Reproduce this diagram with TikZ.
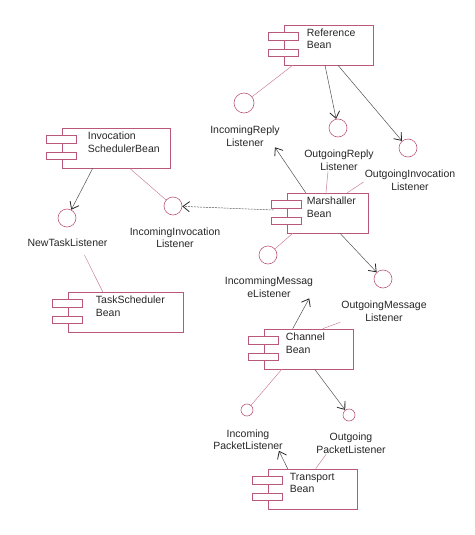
\documentclass[tikz,border=0pt]{standalone}
\usepackage{fontspec}
\setmainfont{Liberation Sans}
\usetikzlibrary{arrows.meta}

\definecolor{beanred}{RGB}{186,88,122}
\definecolor{arrgray}{RGB}{80,80,80}

% the two little tabs on the left side of a bean
\newcommand{\beantabs}[1]{%
  \foreach \dy in {8.5,-8} {
    \draw[beanred,line width=0.6pt,fill=white]
      ([xshift=-15pt,yshift=\dy pt-3.75pt]#1.west) rectangle ([xshift=15pt,yshift=\dy pt+3.75pt]#1.west);
  }%
}

\begin{document}
\begin{tikzpicture}[x=1pt,y=-1pt,
    font=\fontsize{10.5}{12.5}\selectfont,
    text=black!85,
    bean/.style={draw=beanred,line width=0.6pt,minimum height=40pt,inner sep=0pt},
    beantext/.style={anchor=north west,align=left,inner sep=0pt,yshift=-4pt},
    iface/.style={draw=beanred,circle,line width=0.6pt,inner sep=0pt,minimum size=18pt},
    small iface/.style={iface,minimum size=12pt},
    ifname/.style={align=center,inner sep=1pt},
    link/.style={draw=beanred!75,line width=0.5pt},
    uses/.style={draw=arrgray,line width=0.5pt,-{Straight Barb[length=6.5pt,width=10pt,line width=0.8pt,color=black!85]}},
    calls/.style={uses,dash pattern=on 2pt off 1pt}]
  \useasboundingbox (0,0) rectangle (474,535);

  % beans
  \node[bean,minimum width=89pt,label={[beantext,xshift=23pt]north west:Reference\\Bean}] (ref) at (328.5,45) {};
  \node[bean,minimum width=108pt,label={[beantext,xshift=26pt]north west:Invocation\\SchedulerBean}] (inv) at (116,148) {};
  \node[bean,minimum width=115pt,label={[beantext,xshift=28pt]north west:TaskScheduler\\Bean}] (task) at (125.5,312) {};
  \node[bean,minimum width=81pt,label={[beantext,xshift=20pt]north west:Marshaller\\Bean}] (mar) at (327.5,213) {};
  \node[bean,minimum width=89pt,label={[beantext,xshift=22pt]north west:Channel\\Bean}] (chan) at (308.5,349) {};
  \node[bean,minimum width=89pt,label={[beantext,xshift=22pt]north west:Transport\\Bean}] (trans) at (312.5,489) {};
  \beantabs{ref}
  \beantabs{inv}
  \beantabs{task}
  \beantabs{mar}
  \beantabs{chan}
  \beantabs{trans}

  % interfaces
  \node[iface,minimum size=20pt] (irC) at (244,103) {};
  \node[iface] (orC) at (338,128) {};
  \node[iface] (oiC) at (408,148) {};
  \node[iface] (ntC) at (67,218) {};
  \node[iface] (iiC) at (173,206) {};
  \node[iface] (imC) at (268,255) {};
  \node[iface] (omC) at (383,279) {};
  \node[small iface] (ipC) at (247,410) {};
  \node[small iface] (opC) at (349,415) {};

  \node[ifname] (irL) at (245,136) {IncomingReply\\Listener};
  \node[ifname] (orL) at (339,160) {OutgoingReply\\Listener};
  \node[ifname] (oiL) at (410,180) {OutgoingInvocation\\Listener};
  \node[ifname] (ntL) at (67.5,243) {NewTaskListener};
  \node[ifname] (iiL) at (175,237.5) {IncomingInvocation\\Listener};
  \node[ifname] (imL) at (269,287) {IncommingMessag\\eListener};
  \node[ifname] (omL) at (384,311) {OutgoingMessage\\Listener};
  \node[ifname] (ipL) at (248,439.5) {Incoming\\PacketListener};
  \node[ifname] (opL) at (351,443) {Outgoing\\PacketListener};

  % reference bean
  \path[link] ([xshift=9pt]ref.south west) -- (irC);
  \path[uses] ([xshift=-3.5pt]ref.south) -- (orC);
  \path[uses] ([xshift=9.5pt]ref.south) -- (oiC);

  % marshaller bean
  \path[uses] ([xshift=19pt]mar.north west) -- ([xshift=-6pt]irL.south east);
  \path[link] ([xshift=-11pt]orL.south) -- ([xshift=-1.5pt]mar.north);
  \path[link] ([yshift=-2pt]oiL.west) -- ([xshift=-21pt]mar.north east);
  \path[calls] ([xshift=-13pt,yshift=3pt]mar.west) -- (iiC);
  \path[link] ([xshift=6pt]mar.south west) -- (imC);
  \path[uses] ([xshift=12.5pt]mar.south) -- (omC);

  % invocation scheduler bean
  \path[uses] ([xshift=31pt]inv.south west) -- (ntC);
  \path[link] ([xshift=68pt]inv.south west) -- (iiC);
  \path[link] ([xshift=17pt,yshift=-7pt]ntL.south) -- ([xshift=35pt]task.north west);

  % channel bean
  \path[uses] ([xshift=29pt]chan.north west) -- ([xshift=-5pt]imL.south east);
  \path[link] ([xshift=59pt]chan.north west) -- (omL.south west);
  \path[link] ([xshift=18pt]chan.south west) -- (ipC);
  \path[uses] ([xshift=51pt]chan.south west) -- (opC);

  % transport bean
  \path[uses] ([xshift=20pt]trans.north west) -- ([xshift=-5pt]ipL.south east);
  \path[link] ([xshift=48pt]trans.north west) -- ([xshift=11pt]opL.south west);
\end{tikzpicture}
\end{document}
